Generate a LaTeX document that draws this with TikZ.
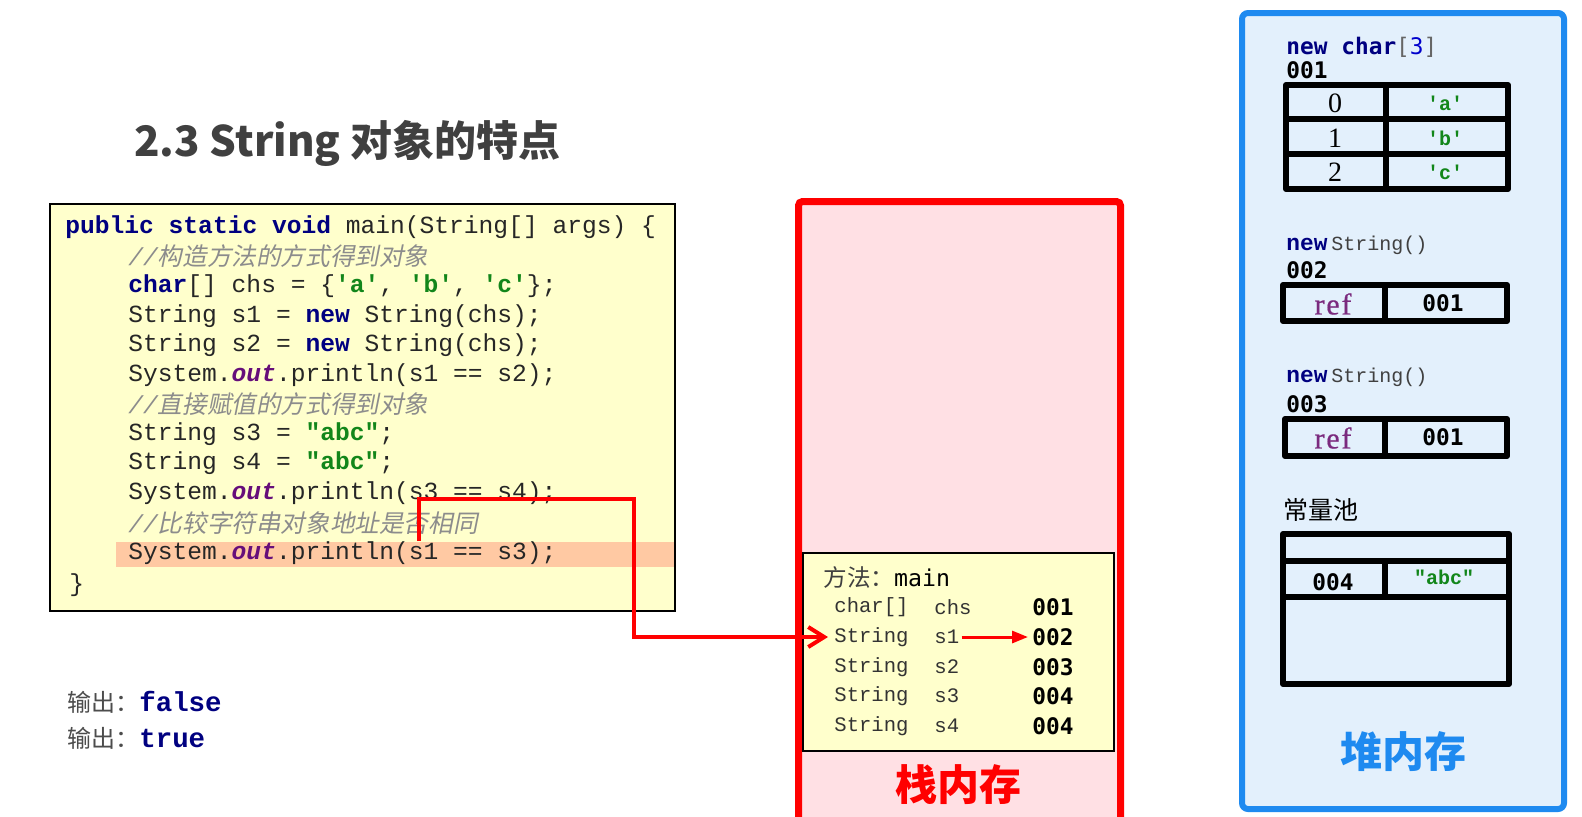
\documentclass[tikz,border=0pt]{standalone}
\usepackage{fontspec}
\setmainfont{Liberation Serif}
\setmonofont{Liberation Mono}
\newfontfamily\cjk{Noto Sans CJK SC}
\newfontfamily\cjkslant[FakeSlant=0.2]{Noto Sans CJK SC}
\newfontfamily\dvmono{DejaVu Sans Mono}
\newfontfamily\refserif[LetterSpace=6,FakeBold=0.6]{Liberation Serif}
\usetikzlibrary{arrows.meta}
\definecolor{codebg}{HTML}{FFFFCC}
\definecolor{hilite}{HTML}{FFC9A3}
\definecolor{stackbg}{HTML}{FFE0E4}
\definecolor{heapbg}{HTML}{E3F0FC}
\definecolor{heapblue}{HTML}{1E8AF0}
\definecolor{kwnavy}{HTML}{000080}
\definecolor{strgreen}{HTML}{12861A}
\definecolor{fldpurple}{HTML}{660E7A}
\definecolor{refpurple}{HTML}{7A2A7E}
\definecolor{cmtgray}{HTML}{8C8C8C}
\definecolor{titlegray}{HTML}{404040}
\newcommand{\kw}[1]{\textcolor{kwnavy}{\bfseries #1}}
\newcommand{\jstr}[1]{\textcolor{strgreen}{\bfseries #1}}
\newcommand{\fld}[1]{\textcolor{fldpurple}{\bfseries\itshape #1}}
\newcommand{\cmt}[1]{\textcolor{cmtgray}{{\itshape //}{\cjkslant #1}}}
\begin{document}
\begin{tikzpicture}[x=0.5pt,y=-0.5pt,
    codeline/.style={anchor=west, inner sep=0pt, text=black!85, font=\ttfamily\fontsize{12.3}{14}\selectfont},
    frameline/.style={anchor=west, inner sep=0pt, text=black!80, font=\ttfamily\fontsize{10.3}{12}\selectfont},
    addr/.style={anchor=west, inner sep=0pt, font=\dvmono\bfseries\fontsize{11.4}{13}\selectfont},
    heapline/.style={anchor=west, inner sep=0pt, font=\dvmono\fontsize{11.4}{13}\selectfont},
    cellnum/.style={inner sep=0pt, font=\fontsize{14}{16}\selectfont},
    cellchr/.style={inner sep=0pt, text=strgreen, font=\ttfamily\bfseries\fontsize{10}{12}\selectfont},
    cellref/.style={inner sep=0pt, text=refpurple, font=\refserif\fontsize{15}{17}\selectfont},
    celladdr/.style={inner sep=0pt, font=\dvmono\bfseries\fontsize{11.4}{13}\selectfont},
    tbl/.style={line width=3pt, line join=round},
    memlabel/.style={inner sep=0pt, font=\cjk\bfseries\fontsize{21}{25}\selectfont}]
    \useasboundingbox (0,0) rectangle (1582,816);
    \fill[white] (0,0) rectangle (1582,816);
    %Title
    \node[anchor=west, inner sep=0pt, text=titlegray, font=\cjk\bfseries\fontsize{21}{25}\selectfont] (title) at (134,143) {2.3 String 对象的特点};
    %Code
    \fill[codebg] (50,204) rectangle (675,611);
    \fill[hilite] (116,542) rectangle (675,567);
    \draw[line width=1.3pt] (50,204) rectangle (675,611);
    \node[codeline] (l0) at (65,227) {\kw{public static void} main(String[] args) \{};
    \node[codeline] (l1) at (128,256) {\cmt{构造方法的方式得到对象}};
    \node[codeline] (l2) at (128,286) {\kw{char}[] chs = \{\jstr{'a'}, \jstr{'b'}, \jstr{'c'}\};};
    \node[codeline] (l3) at (128,316) {String s1 = \kw{new} String(chs);};
    \node[codeline] (l4) at (128,345) {String s2 = \kw{new} String(chs);};
    \node[codeline] (l5) at (128,375) {System.\fld{out}.println(s1 == s2);};
    \node[codeline] (l6) at (128,404) {\cmt{直接赋值的方式得到对象}};
    \node[codeline] (l7) at (128,434) {String s3 = \jstr{"abc"};};
    \node[codeline] (l8) at (128,463) {String s4 = \jstr{"abc"};};
    \node[codeline] (l9) at (128,493) {System.\fld{out}.println(s3 == s4);};
    \node[codeline] (l10) at (128,523) {\cmt{比较字符串对象地址是否相同}};
    \node[codeline] (l11) at (128,553) {System.\fld{out}.println(s1 == s3);};
    \node[codeline] (l12) at (69,585) {\}};
    %Output
    \node[anchor=west, inner sep=0pt] (out1) at (67,702) {{\cjk\color{black!70}\fontsize{12}{14}\selectfont 输出：}\textcolor{kwnavy}{\ttfamily\bfseries\fontsize{13.7}{16}\selectfont false}};
    \node[anchor=west, inner sep=0pt] (out2) at (67,738) {{\cjk\color{black!70}\fontsize{12}{14}\selectfont 输出：}\textcolor{kwnavy}{\ttfamily\bfseries\fontsize{13.7}{16}\selectfont true}};
    %Stack
    \filldraw[fill=stackbg, draw=red, line width=3.5pt, rounded corners=2pt] (798.5,201.5) rectangle (1120.5,840);
    \node[memlabel, text=red] (stack) at (958,785) {栈内存};
    \filldraw[fill=codebg, draw=black, line width=1.2pt] (803,553) rectangle (1114,751);
    \node[anchor=west, inner sep=0pt] (frame) at (823,577) {{\cjk\color{black!75}\fontsize{11.8}{14}\selectfont 方法：}{\dvmono\fontsize{11.6}{14}\selectfont main}};
    \node[frameline] (tchs) at (834,607) {char[]};
    \node[frameline] (nchs) at (934,607) {chs};
    \node[addr] (achs) at (1032,607) {001};
    \node[frameline] (ts1) at (834,637) {String};
    \node[frameline] (ns1) at (934,637) {s1};
    \node[addr] (as1) at (1032,637) {002};
    \node[frameline] (ts2) at (834,667) {String};
    \node[frameline] (ns2) at (934,667) {s2};
    \node[addr] (as2) at (1032,667) {003};
    \node[frameline] (ts3) at (834,696) {String};
    \node[frameline] (ns3) at (934,696) {s3};
    \node[addr] (as3) at (1032,696) {004};
    \node[frameline] (ts4) at (834,726) {String};
    \node[frameline] (ns4) at (934,726) {s4};
    \node[addr] (as4) at (1032,726) {004};
    %Heap
    \filldraw[fill=heapbg, draw=heapblue, line width=3pt, rounded corners=3pt] (1242,13) rectangle (1564,809);
    \node[memlabel, text=heapblue] (heap) at (1403,752) {堆内存};
    % char array 001
    \node[heapline] (newchr) at (1286,47) {\textcolor{kwnavy}{\bfseries new char}\textcolor{black!60}{[}\textcolor{blue!80!black}{3}\textcolor{black!60}{]}};
    \node[heapline, font=\dvmono\bfseries\fontsize{11.4}{13}\selectfont] (h001) at (1286,70) {001};
    \draw[tbl] (1286,85) rectangle (1508,189);
    \draw[tbl] (1286,119) -- (1508,119);
    \draw[tbl] (1286,154) -- (1508,154);
    \draw[tbl] (1386,85) -- (1386,189);
    \node[cellnum] (i0) at (1335,103) {0};
    \node[cellchr] (v0) at (1445,103) {'a'};
    \node[cellnum] (i1) at (1335,138) {1};
    \node[cellchr] (v1) at (1445,138) {'b'};
    \node[cellnum] (i2) at (1335,172) {2};
    \node[cellchr] (v2) at (1445,172) {'c'};
    % String 002
    \node[heapline] (newstr1) at (1286,245) {\textcolor{kwnavy}{\ttfamily\bfseries new}\,{\ttfamily\color{black!75}\fontsize{10}{12}\selectfont String()}};
    \node[heapline, font=\dvmono\bfseries\fontsize{11.4}{13}\selectfont] (h002) at (1286,270) {002};
    \draw[tbl] (1283,285) rectangle (1507,321);
    \draw[tbl] (1385,285) -- (1385,321);
    \node[cellref] (ref1) at (1333,304) {ref};
    \node[celladdr] (ra1) at (1443,303) {001};
    % String 003
    \node[heapline] (newstr2) at (1286,377) {\textcolor{kwnavy}{\ttfamily\bfseries new}\,{\ttfamily\color{black!75}\fontsize{10}{12}\selectfont String()}};
    \node[heapline, font=\dvmono\bfseries\fontsize{11.4}{13}\selectfont] (h003) at (1286,404) {003};
    \draw[tbl] (1285,419) rectangle (1507,456);
    \draw[tbl] (1385,419) -- (1385,456);
    \node[cellref] (ref2) at (1333,438) {ref};
    \node[celladdr] (ra2) at (1443,437) {001};
    % constant pool
    \node[anchor=west, inner sep=0pt, font=\cjk\fontsize{12.5}{15}\selectfont] (pool) at (1283,510) {常量池};
    \draw[tbl] (1283,534) rectangle (1509,684);
    \draw[tbl] (1283,561) -- (1509,561);
    \draw[tbl] (1283,597) -- (1509,597);
    \draw[tbl] (1385,561) -- (1385,597);
    \node[celladdr] (p004) at (1333,582) {004};
    \node[cellchr] (pabc) at (1444,577) {"abc"};
    %Reference arrows
    \coordinate (s1src) at (419,541);
    \coordinate (bend) at (634,499);
    \draw[red, line width=2pt, shorten >=3pt, -{Straight Barb[length=8pt,width=10pt,line width=2pt]}] (s1src) |- (bend) |- (ts1.west);
    \draw[red, line width=1.5pt, shorten <=1pt, shorten >=2pt, -{Triangle[length=8pt,width=6pt]}] (ns1.east) -- (as1.west);
\end{tikzpicture}
\end{document}
